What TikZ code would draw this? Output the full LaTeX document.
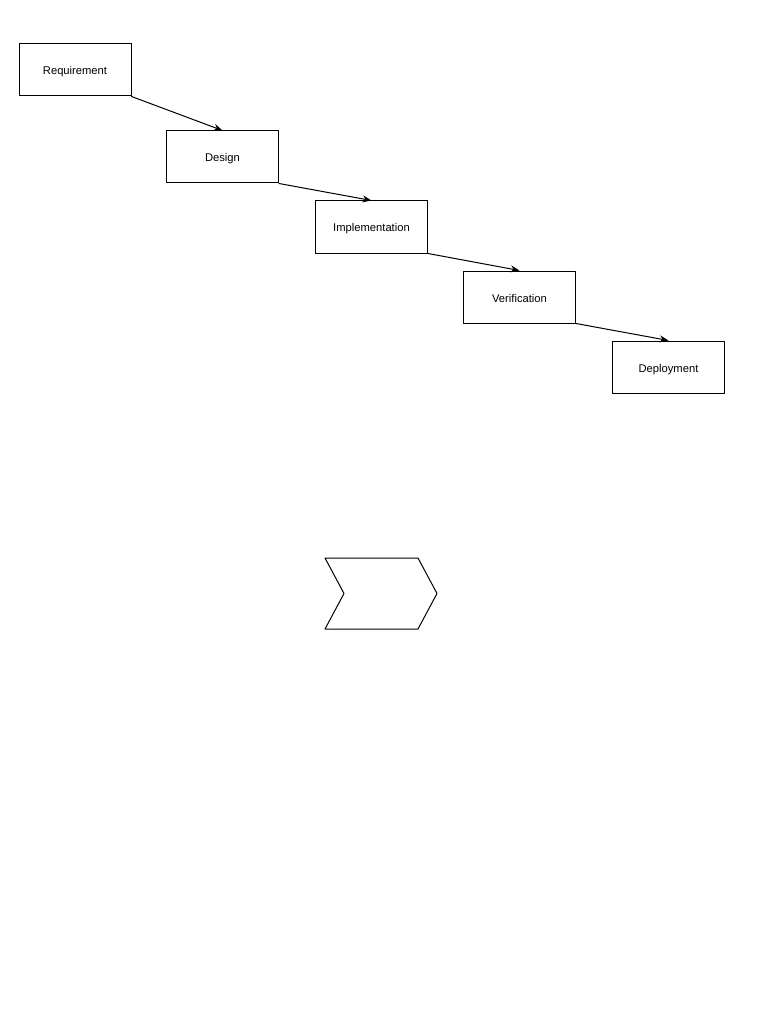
\documentclass[tikz,border=0pt]{standalone}
\usepackage{fontspec}
\setmainfont{Liberation Sans}
\usetikzlibrary{arrows.meta}
\begin{document}
\begin{tikzpicture}[line cap=round,line join=round,>={Stealth[length=9pt,width=7pt]},x=1pt,y=-1pt,
	phase/.style={draw,line width=1pt,minimum width=112pt,minimum height=52pt,inner sep=0pt,text height=10pt,text depth=0pt,font=\fontsize{11.2}{13}\selectfont},
	flow/.style={->,line width=1pt}]
		\useasboundingbox (0,0) rectangle (768,1024);
		\node [phase] (req) at (75,70) {Requirement};
		\node [phase] (des) at (222.5,157) {Design};
		\node [phase] (imp) at (371.5,227) {Implementation};
		\node [phase] (ver) at (519.5,297) {Verification};
		\node [phase] (dep) at (668.5,367) {Deployment};
		\draw [flow] (req.south east)-- (des.north);
		\draw [flow] (des.south east)-- (imp.north);
		\draw [flow] (imp.south east)-- (ver.north);
		\draw [flow] (ver.south east)-- (dep.north);
		\draw [line width=1pt] (325,558)-- (418,558)-- (437,593.5)-- (418,629)-- (325,629)-- (344,593.5)-- cycle;
		\end{tikzpicture}
\end{document}
